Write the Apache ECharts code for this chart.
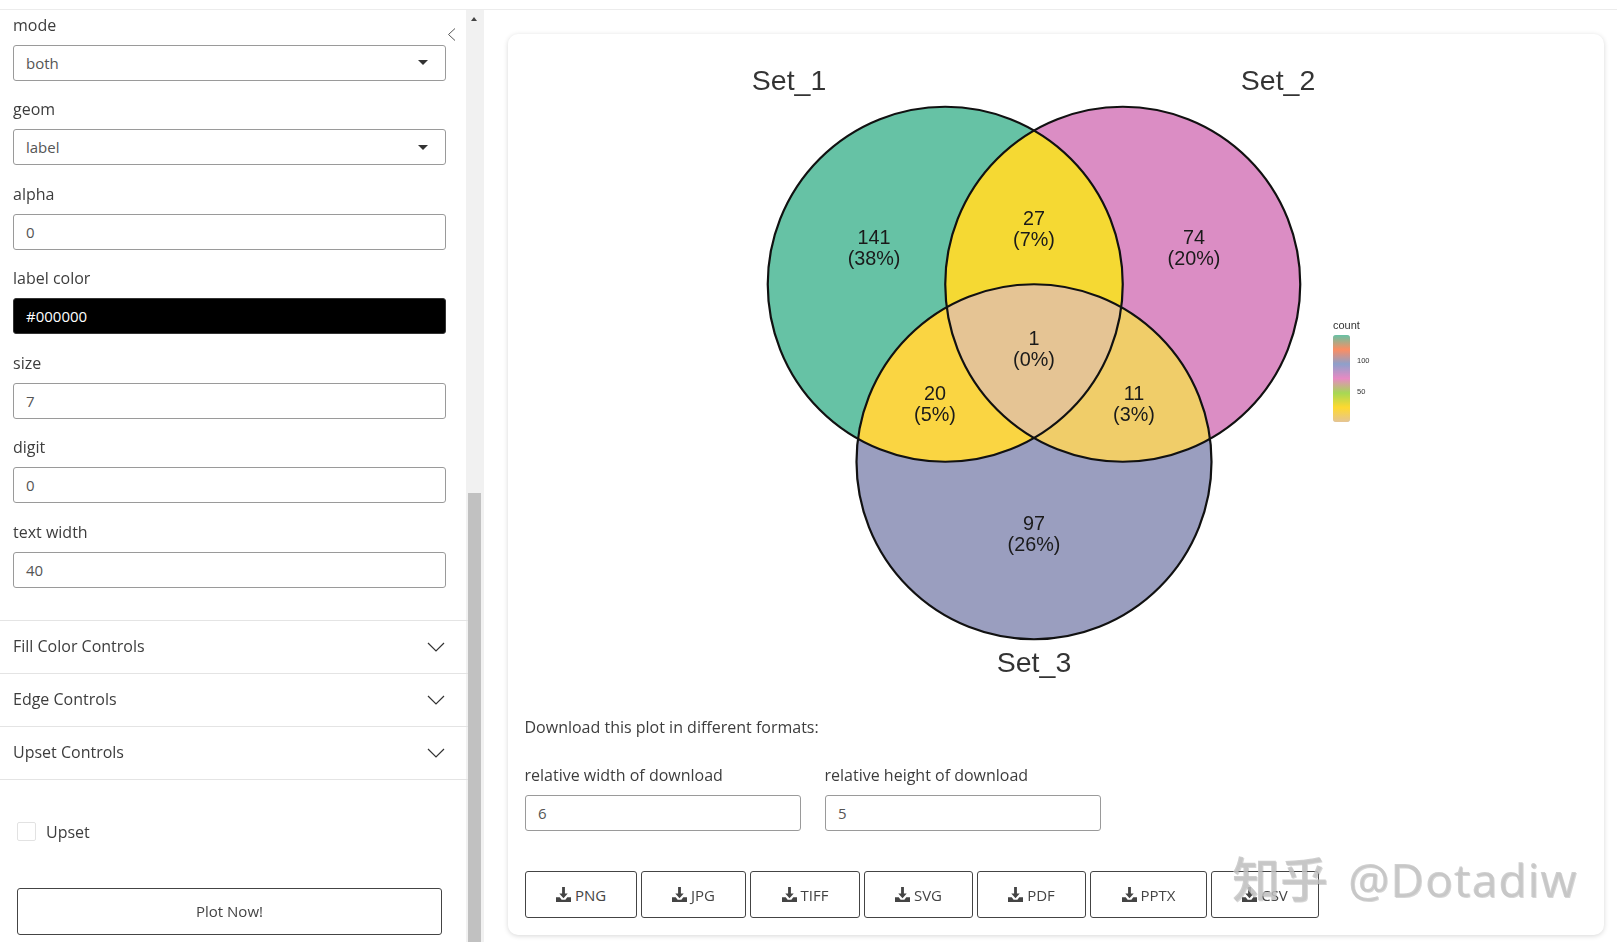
<!DOCTYPE html>
<html>
<head>
<meta charset="utf-8">
<script src="https://cdn.jsdelivr.net/npm/echarts@6/dist/echarts.min.js"></script>
<style>
html,body{margin:0;padding:0;width:1617px;height:942px;overflow:hidden;background:#fff;font-family:"Open Sans",sans-serif;color:#3d3d3d}
.a{position:absolute}
.t{position:absolute;line-height:24px;height:24px;white-space:nowrap;font-size:16px}
.box{position:absolute;box-sizing:border-box;left:13px;width:433px;height:36px;border:1px solid #9a9a9a;border-radius:3px;background:#fff;padding-left:12px;font-size:15px;line-height:34px;color:#555}
.caret{position:absolute;left:418px;width:0;height:0;border-left:5px solid transparent;border-right:5px solid transparent;border-top:5px solid #333}
.line{position:absolute;left:0;width:468px;height:1px;background:#e4e4e4}
.btn{position:absolute;box-sizing:border-box;top:871px;height:47px;border:1px solid #444;border-radius:3px;background:#fff;display:flex;align-items:center;justify-content:center;font-size:15px;color:#444}
.btn svg{width:15px;height:15px;margin-right:4px;fill:#444}
.inp2{position:absolute;box-sizing:border-box;top:795px;width:276px;height:36px;border:1px solid #9a9a9a;border-radius:3px;padding-left:12px;font-size:15px;line-height:34px;color:#555;background:#fff}
#card{position:absolute;left:508px;top:34px;width:1096px;height:901px;background:#fff;border-radius:10px;box-shadow:0 1px 5px rgba(0,0,0,.16)}
#chart{position:absolute;left:0;top:0;width:1617px;height:942px}
#wm{position:absolute;left:1232px;top:846px;height:60px;line-height:60px;white-space:nowrap;color:rgba(195,195,195,.8);text-shadow:1px 1px 0 rgba(120,120,120,.3);pointer-events:none}
</style>
</head>
<body>
<div class="a" style="left:0;top:9px;width:1617px;height:1px;background:#ececec"></div>

<div id="card"></div>
<div id="chart"></div>

<!-- sidebar -->
<div class="a" style="left:466px;top:10px;width:18px;height:932px;background:#f1f1f1"></div>
<div class="a" style="left:468px;top:493px;width:13px;height:449px;background:#c1c1c1"></div>
<div class="a" style="left:471px;top:17px;width:0;height:0;border-left:3.5px solid transparent;border-right:3.5px solid transparent;border-bottom:4px solid #444"></div>
<svg class="a" style="left:447px;top:27px" width="10" height="15"><polyline points="8,1.5 1.5,7.5 8,13.5" fill="none" stroke="#555" stroke-width="1"/></svg>

<div class="t" style="left:13px;top:13px">mode</div>
<div class="box" style="top:45px">both</div><div class="caret" style="top:60px"></div>
<div class="t" style="left:13px;top:97px">geom</div>
<div class="box" style="top:129px">label</div><div class="caret" style="top:145px"></div>
<div class="t" style="left:13px;top:182px">alpha</div>
<div class="box" style="top:214px">0</div>
<div class="t" style="left:13px;top:266px">label color</div>
<div class="box" style="top:298px;background:#000;color:#fff;border-color:#333">#000000</div>
<div class="t" style="left:13px;top:351px">size</div>
<div class="box" style="top:383px">7</div>
<div class="t" style="left:13px;top:435px">digit</div>
<div class="box" style="top:467px">0</div>
<div class="t" style="left:13px;top:520px">text width</div>
<div class="box" style="top:552px">40</div>

<div class="line" style="top:620px"></div>
<div class="t" style="left:13px;top:634px">Fill Color Controls</div>
<svg class="a" style="left:427px;top:642px" width="18" height="11"><polyline points="1,1 9,9 17,1" fill="none" stroke="#333" stroke-width="1.2"/></svg>
<div class="line" style="top:673px"></div>
<div class="t" style="left:13px;top:687px">Edge Controls</div>
<svg class="a" style="left:427px;top:695px" width="18" height="11"><polyline points="1,1 9,9 17,1" fill="none" stroke="#333" stroke-width="1.2"/></svg>
<div class="line" style="top:726px"></div>
<div class="t" style="left:13px;top:740px">Upset Controls</div>
<svg class="a" style="left:427px;top:748px" width="18" height="11"><polyline points="1,1 9,9 17,1" fill="none" stroke="#333" stroke-width="1.2"/></svg>
<div class="line" style="top:779px"></div>

<div class="a" style="left:17px;top:822px;width:19px;height:19px;box-sizing:border-box;border:1px solid #e2e2e2;border-radius:2px"></div>
<div class="t" style="left:46px;top:820px">Upset</div>
<div class="a" style="left:17px;top:888px;width:425px;height:47px;box-sizing:border-box;border:1px solid #444;border-radius:3px;text-align:center;line-height:45px;font-size:15px;color:#444">Plot Now!</div>

<!-- download area -->
<div class="t" style="left:524.500px;top:715px">Download this plot in different formats:</div>
<div class="t" style="left:524.500px;top:763px">relative width of download</div>
<div class="t" style="left:824.500px;top:763px">relative height of download</div>
<div class="inp2" style="left:525px">6</div>
<div class="inp2" style="left:825px">5</div>
<div id="btns"></div>

<div id="wm"><span style="font-family:'Noto Sans CJK SC';font-size:48px;font-weight:500">知乎</span><span style="font-family:'Noto Sans';font-size:46px;margin-left:20px;letter-spacing:1px">@Dotadiw</span></div>

<script>
// ---- chart data ----
const setNames = ['Set_1', 'Set_2', 'Set_3'];
const setCenterX = [-0.5, 0.5, 0];
const setCenterY = [0.5, 0.5, -0.5];
const setRadius = 1;
const setLabelX = [-1.38, 1.375, 0];
const setLabelY = [1.636, 1.636, -1.639];

const regionMembers = [[1,0,0],[0,1,0],[0,0,1],[1,1,0],[1,0,1],[0,1,1],[1,1,1]];
const regionCounts = [141, 74, 97, 27, 20, 11, 1];
const regionLabelX = [-0.901, 0.901, 0, 0, -0.558, 0.563, 0];
const regionLabelY = [0.701, 0.701, -0.911, 0.805, -0.183, -0.183, 0.129];

const legendColors = ['#e5c494','#ffd92f','#a6d854','#e78ac3','#8da0cb','#fc8d62','#66c2a5'];
const legendTicks = [50, 100];

const buttonNames = ['PNG','JPG','TIFF','SVG','PDF','PPTX','CSV'];
const buttonLeft = [525,641,750,864,977,1090,1211];
const buttonWidth = [112,105,110,109,109,117,108];

// ---- buttons ----
const icon = '<svg viewBox="0 0 16 16"><path d="M6.5 0h3v7h3L8 12 3.500 7h3z"/><path d="M0 11h4l2 2.500h4L12 11h4v5H0z"/></svg>';
document.getElementById('btns').innerHTML = buttonNames.map((n, i) =>
  `<div class="btn" style="left:${buttonLeft[i]}px;width:${buttonWidth[i]}px">${icon}${n}</div>`).join('');

// ---- venn geometry: trace each region's boundary from the circles ----
const norm = a => { a %= 2 * Math.PI; return a < 0 ? a + 2 * Math.PI : a; };
const inside = (j, x, y) => Math.hypot(x - setCenterX[j], y - setCenterY[j]) < setRadius;
function circleArcs(i) {
  const angles = [];
  for (let j = 0; j < 3; j++) {
    if (j === i) continue;
    const dx = setCenterX[j] - setCenterX[i], dy = setCenterY[j] - setCenterY[i];
    const d = Math.hypot(dx, dy), base = Math.atan2(dy, dx), off = Math.acos(d / (2 * setRadius));
    angles.push(norm(base + off), norm(base - off));
  }
  angles.sort((a, b) => a - b);
  return angles.map((a, k) => {
    const b = k === angles.length - 1 ? angles[0] + 2 * Math.PI : angles[k + 1];
    return [a, b];
  });
}
const arcPoint = (i, a) => [setCenterX[i] + setRadius * Math.cos(a), setCenterY[i] + setRadius * Math.sin(a)];
function regionOutline(mask) {
  const arcs = [];
  for (let i = 0; i < 3; i++) {
    circleArcs(i).forEach(([a, b]) => {
      const [mx, my] = arcPoint(i, (a + b) / 2);
      let ok = true;
      for (let j = 0; j < 3; j++) if (j !== i && (inside(j, mx, my) ? 1 : 0) !== mask[j]) ok = false;
      if (ok) arcs.push(mask[i] ? { i, s: a, e: b } : { i, s: b, e: a });
    });
  }
  const pts = [];
  let cur = arcs.shift();
  while (cur) {
    for (let k = 0; k <= 80; k++) pts.push(arcPoint(cur.i, cur.s + (cur.e - cur.s) * k / 80));
    const end = arcPoint(cur.i, cur.e);
    let best = -1, bd = 1e9;
    arcs.forEach((q, n) => {
      const st = arcPoint(q.i, q.s), d = Math.hypot(st[0] - end[0], st[1] - end[1]);
      if (d < bd) { bd = d; best = n; }
    });
    cur = best >= 0 ? arcs.splice(best, 1)[0] : null;
  }
  return pts;
}
const regionOutlines = regionMembers.map(regionOutline);
const total = regionCounts.reduce((a, b) => a + b, 0);

// ---- chart ----
const chart = echarts.init(document.getElementById('chart'), null, { renderer: 'canvas' });
chart.setOption({
  animation: false,
  backgroundColor: 'transparent',
  title: {
    text: 'count', left: 1333, top: 320, padding: 0,
    textStyle: { fontFamily: 'Liberation Sans', fontSize: 11, fontWeight: 'normal', color: '#333' }
  },
  grid: [
    { left: 679, top: 18, width: 710, height: 710, show: false },
    { left: 1333, top: 335, width: 17, height: 87, show: false }
  ],
  xAxis: [
    { gridIndex: 0, type: 'value', min: -2, max: 2, show: false },
    { gridIndex: 1, type: 'value', min: 0, max: 1, show: false }
  ],
  yAxis: [
    { gridIndex: 0, type: 'value', min: -2, max: 2, show: false },
    {
      gridIndex: 1, type: 'value', min: 1, max: 141, position: 'right', z: 20,
      splitLine: { show: false },
      axisLine: { show: false },
      axisTick: { show: true, inside: true, length: 3.5, customValues: legendTicks, lineStyle: { color: '#fff', width: 0.6 } },
      axisLabel: { customValues: legendTicks, margin: 7, fontFamily: 'Liberation Sans', fontSize: 7.5, color: '#333' }
    }
  ],
  visualMap: {
    type: 'continuous', min: 1, max: 141, seriesIndex: 0, dimension: 1,
    inRange: { color: legendColors },
    left: 1333, top: 335, itemWidth: 17, itemHeight: 87, padding: 0,
    calculable: false, hoverLink: false, text: null, showLabel: false,
    textStyle: { fontSize: 0 }, z: 1
  },
  series: [
    {
      type: 'custom', coordinateSystem: 'cartesian2d', xAxisIndex: 0, yAxisIndex: 0, z: 2, silent: true, clip: false,
      dimensions: ['region', 'count'],
      data: regionCounts.map((c, i) => [i, c]),
      renderItem(params, api) {
        const r = api.value(0), c = api.value(1);
        const pts = regionOutlines[r].map(p => api.coord(p));
        const pos = api.coord([regionLabelX[r], regionLabelY[r]]);
        return {
          type: 'group',
          children: [
            { type: 'polygon', shape: { points: pts }, style: { fill: api.visual('color'), stroke: 'none' } },
            {
              type: 'text', x: pos[0], y: pos[1], z2: 10,
              style: {
                text: c + '\n(' + Math.round(c / total * 100) + '%)',
                fontFamily: 'Liberation Sans', fontSize: 19.8, lineHeight: 21,
                fill: '#1a1a1a', align: 'center', verticalAlign: 'middle'
              }
            }
          ]
        };
      }
    },
    {
      type: 'custom', coordinateSystem: 'cartesian2d', xAxisIndex: 0, yAxisIndex: 0, z: 3, silent: true, clip: false,
      data: setCenterX.map((x, i) => [x, setCenterY[i]]),
      renderItem(params, api) {
        const c = api.coord([api.value(0), api.value(1)]);
        const rad = api.size([setRadius, 0])[0];
        return {
          type: 'circle', shape: { cx: c[0], cy: c[1], r: rad },
          style: { fill: 'none', stroke: '#111', lineWidth: 2.2 }
        };
      }
    },
    {
      type: 'scatter', xAxisIndex: 0, yAxisIndex: 0, symbolSize: 0, silent: true, z: 4,
      data: setNames.map((n, i) => ({ name: n, value: [setLabelX[i], setLabelY[i]] })),
      label: {
        show: true, position: 'inside', formatter: '{b}',
        fontFamily: 'Liberation Sans', fontSize: 28.5, color: '#000'
      }
    }
  ]
});
</script>
</body>
</html>
